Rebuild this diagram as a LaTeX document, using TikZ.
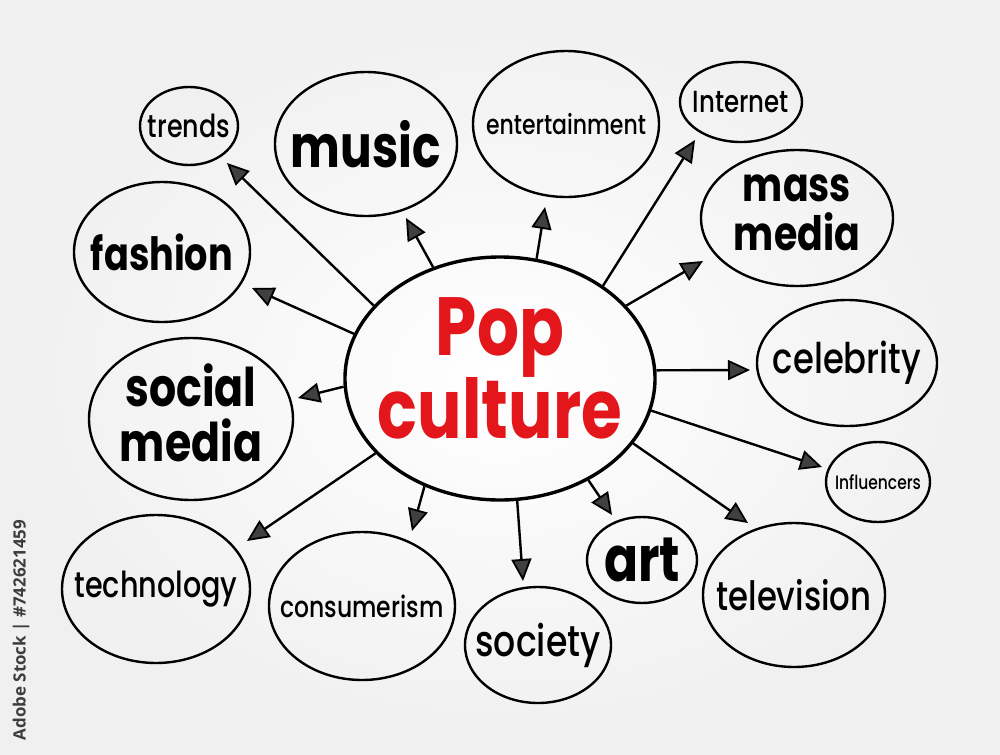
\documentclass[tikz,border=0pt]{standalone}
\usepackage{fontspec}
\setmainfont{Poppins}[UprightFont=* Medium, BoldFont=* Bold]
\newfontfamily\wmfont{Open Sans}
\usetikzlibrary{shapes.geometric,arrows.meta}
\definecolor{popred}{HTML}{E3161B}
\definecolor{wmgray}{HTML}{3C3C3C}
\newcommand\fitw[2]{\scalebox{1}[1.25]{\resizebox{#1}{!}{#2}}}
\newcommand\twol[3]{{\renewcommand\arraystretch{#1}\begin{tabular}{@{}c@{}}#2\\#3\end{tabular}}}
\tikzset{
  bub/.style={ellipse, draw=black, line width=0.6mm, inner sep=0pt, fill=none},
  hub/.style={ellipse, draw=black, line width=0.85mm, inner sep=0pt},
  arr/.style={line width=0.6mm, -{Triangle[length=5.5mm,width=5mm,fill=black!75,line width=0.45mm]}},
}
\begin{document}
\begin{tikzpicture}[x=0.25mm, y=-0.25mm]
\useasboundingbox (0,0) rectangle (1000,755);
\shade[inner color=white, outer color=black!6] (0,0) rectangle (1000,755);

% central node
\node[hub, minimum width=77.5mm, minimum height=60.75mm,
  label={center:{\color{popred}\fitw{61mm}{\bfseries\twol{0.72}{Pop}{culture}}}}] (c) at (500,378.5) {};

% outer nodes
\node[bub, minimum width=24.5mm, minimum height=19.5mm,
  label={center:{\fitw{20.5mm}{trends}}}] (trends) at (189,126) {};
\node[bub, minimum width=45.5mm, minimum height=36mm,
  label={center:{\fitw{37.5mm}{\bfseries music}}}] (music) at (366,144) {};
\node[bub, minimum width=46.5mm, minimum height=36.5mm,
  label={center:{\fitw{40mm}{entertainment}}}] (ent) at (566,124) {};
\node[bub, minimum width=30.5mm, minimum height=20mm,
  label={center:{\fitw{24mm}{Internet}}}] (internet) at (741,102) {};
\node[bub, minimum width=48mm, minimum height=34mm,
  label={center:{\fitw{31.5mm}{\bfseries\twol{0.7}{mass}{media}}}}] (mass) at (797,218) {};
\node[bub, minimum width=44mm, minimum height=35mm,
  label={center:{\fitw{35.5mm}{\bfseries fashion}}}] (fashion) at (162,252) {};
\node[bub, minimum width=45mm, minimum height=31.5mm,
  label={center:{\fitw{37mm}{celebrity}}}] (celeb) at (847,363) {};
\node[bub, minimum width=51mm, minimum height=40.5mm,
  label={center:{\fitw{35.5mm}{\bfseries\twol{0.64}{social}{media}}}}] (social) at (191,419) {};
\node[bub, minimum width=26mm, minimum height=20mm,
  label={center:{\fitw{21.5mm}{Influencers}}}] (influ) at (878,482) {};
\node[bub, minimum width=47mm, minimum height=37mm,
  label={center:{\fitw{40.75mm}{technology}}}] (tech) at (156,589) {};
\node[bub, minimum width=46.5mm, minimum height=37mm,
  label={center:{\fitw{40.75mm}{consumerism}}}] (cons) at (362,606) {};
\node[bub, minimum width=36.5mm, minimum height=29mm,
  label={center:{\fitw{31.25mm}{society}}}] (society) at (538,645) {};
\node[bub, minimum width=27.5mm, minimum height=21.5mm,
  label={center:{\fitw{19mm}{\bfseries art}}}] (art) at (642,560) {};
\node[bub, minimum width=45.5mm, minimum height=36mm,
  label={center:{\fitw{38.75mm}{television}}}] (tv) at (794,595) {};

% watermark text
\node[rotate=90, text=wmgray] (wm) at (21,630) {\resizebox{55mm}{!}{\wmfont\bfseries Adobe Stock | \#742621459}};

% arrow tips
\coordinate (tTrends) at (227,163);
\coordinate (tMusic) at (406,218);
\coordinate (tEnt) at (545,207);
\coordinate (tInternet) at (695,140);
\coordinate (tMass) at (703,261);
\coordinate (tFashion) at (252,288);
\coordinate (tCeleb) at (750,370);
\coordinate (tSocial) at (298,398);
\coordinate (tInflu) at (822,467);
\coordinate (tTv) at (748,523);
\coordinate (tArt) at (612,515);
\coordinate (tSociety) at (523,581);
\coordinate (tCons) at (412,531);
\coordinate (tTech) at (247,541);

\draw[arr] (c.150) -- (tTrends);
\draw[arr] (c.121.5) -- (tMusic);
\draw[arr] (c.73) -- (tEnt);
\draw[arr] (c.42.5) -- (tInternet);
\draw[arr] (c.30.3) -- (tMass);
\draw[arr] (c.163.8) -- (tFashion);
\draw[arr] (c.3.6) -- (tCeleb);
\draw[arr] (c.183.3) -- (tSocial);
\draw[arr] (c.348) -- (tInflu);
\draw[arr] (c.334.6) -- (tTv);
\draw[arr] (c.311.4) -- (tArt);
\draw[arr] (c.278) -- (tSociety);
\draw[arr] (c.235.5) -- (tCons);
\draw[arr] (c.211.6) -- (tTech);
\end{tikzpicture}
\end{document}
